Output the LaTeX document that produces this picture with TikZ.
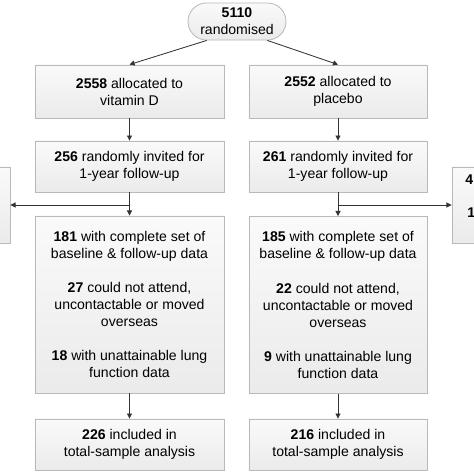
\documentclass[tikz,border=0pt]{standalone}
\usepackage{fontspec}
\setmainfont{Liberation Sans}
\usepackage{tikz}
\usetikzlibrary{arrows.meta, shapes.misc}

\begin{document}
\begin{tikzpicture}[x=0.025cm, y=-0.025cm,
    box/.style={draw=gray!55, line width=0.6pt, top color=gray!4, bottom color=gray!16,
                align=center, font=\fontsize{10}{12.1}\selectfont, inner sep=0pt},
    boxa/.style={box, minimum width=4.725cm},
    boxb/.style={box, minimum width=4.45cm},
    flow/.style={draw=gray!40!black, line width=0.6pt, -{Triangle[length=3.6pt, width=3.6pt]}}]
  \useasboundingbox (0,0) rectangle (474,474);
  \clip (0,0) rectangle (474,474);

  % Randomisation
  \node[box, rounded rectangle, minimum width=2.45cm, minimum height=0.925cm]
    (rand) at (237,21.5) {\textbf{5110}\\randomised};

  % Vitamin D arm
  \node[boxa, minimum height=1.325cm] (vitD) at (129.5,91.5) {\textbf{2558} allocated to\\vitamin D};
  \node[boxa, minimum height=1.275cm] (invA) at (129.5,166.5) {\textbf{256} randomly invited for\\1-year follow-up};
  \node[boxa, minimum height=4.425cm] (datA) at (129.5,304.5)
    {\textbf{181} with complete set of\\baseline \& follow-up data\\[12.1pt]
     \textbf{27} could not attend,\\uncontactable or moved\\overseas\\[12.1pt]
     \textbf{18} with unattainable lung\\function data};
  \node[boxa, minimum height=1.275cm] (anaA) at (129.5,444.5) {\textbf{226} included in\\total-sample analysis};

  % Placebo arm
  \node[boxb, minimum height=1.325cm] (plac) at (338,91.5) {\textbf{2552} allocated to\\placebo};
  \node[boxb, minimum height=1.275cm] (invB) at (338,166.5) {\textbf{261} randomly invited for\\1-year follow-up};
  \node[boxb, minimum height=4.425cm] (datB) at (338,305)
    {\textbf{185} with complete set of\\baseline \& follow-up data\\[12.1pt]
     \textbf{22} could not attend,\\uncontactable or moved\\overseas\\[12.1pt]
     \textbf{9} with unattainable lung\\function data};
  \node[boxb, minimum height=1.275cm] (anaB) at (338,444.5) {\textbf{216} included in\\total-sample analysis};

  % Side boxes (cut by the page edge)
  \node[boxa, minimum height=1.9cm] (sideA) at (-84.5,205) {};
  \node[boxa, minimum height=1.9cm] (sideB) at (546.5,205) {};
  \node[anchor=west, font=\fontsize{10}{12}\selectfont\bfseries, inner sep=0pt] (sideB1) at (465,180) {4};
  \node[anchor=west, font=\fontsize{10}{12}\selectfont\bfseries, inner sep=0pt] (sideB2) at (467,213) {1};

  % Connectors
  \draw[flow] (rand.212) -- (vitD.north);
  \draw[flow] (rand.328) -- (plac.north);
  \draw[flow] (vitD) -- (invA);
  \draw[flow] (plac) -- (invB);
  \draw[flow] (invA) -- (datA);
  \draw[flow] (invB) -- (datB);
  \draw[flow] (invA.south |- sideA.east) -- (sideA.east);
  \draw[flow] (invB.south |- sideB.west) -- (sideB.west);
  \draw[flow] (datA) -- (anaA);
  \draw[flow] (datB) -- (anaB);
\end{tikzpicture}
\end{document}
